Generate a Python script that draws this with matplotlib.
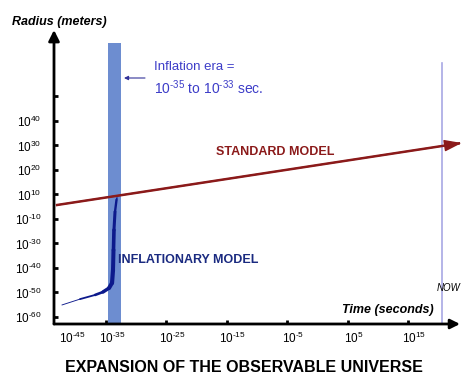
import numpy as np
import matplotlib
matplotlib.use('Agg')
import matplotlib.pyplot as plt
from matplotlib.collections import LineCollection

plt.rcParams['font.family'] = ['Liberation Sans', 'DejaVu Sans']
plt.rcParams['mathtext.fontset'] = 'custom'
plt.rcParams['mathtext.rm'] = 'Liberation Sans'
plt.rcParams['mathtext.it'] = 'Liberation Sans:italic'
plt.rcParams['mathtext.bf'] = 'Liberation Sans:bold'

W, H = 474, 382

# y axis is schematic: one slot per tick, labels as printed in the figure
y_labels = ['-60', '-50', '-40', '-30', '-10', '10', '20', '30', '40', '']
x_ticks = [-35, -25, -15, -5, 5, 15]          # log10(seconds)
x_first_label = -45

# standard model: log10(t), tick slot
std_x = [-43.1, 23.9]
std_y = [4.57, 7.10]

# inflationary model curve (log10 t, slot) and stroke width
inf_x = np.array([-42.3, -39.3, -36.8, -35.5, -34.5, -34.0, -33.84, -33.76, -33.68, -33.51, -33.26, -33.18])
inf_y = np.array([0.49, 0.73, 0.90, 1.02, 1.18, 1.39, 1.92, 2.73, 3.55, 4.29, 4.78, 4.86])
inf_w = np.array([0.3, 1.0, 1.6, 2.2, 2.8, 3.0, 3.0, 2.8, 2.4, 2.0, 1.4, 0.8])

inflation_era = (-34.67, -32.52)
inflation_top = 11.18
now_x = 20.6
now_top = 10.35

xlim = (-43.61, 23.61)
ylim = (-0.286, 11.71)

def px(x, y):
    return x / W, 1 - y / H

def sup(s):
    return r'$10^{\text{%s}}$' % s

fig = plt.figure(figsize=(W / 100, H / 100), dpi=100)
ax = fig.add_axes([54 / W, (H - 324) / H, 406 / W, 294 / H])
ax.set_xlim(xlim)
ax.set_ylim(ylim)
for s in ax.spines.values():
    s.set_visible(False)

# axes with arrow heads
ax.annotate('', xy=(0, 1), xytext=(0, 0), xycoords='axes fraction',
            arrowprops=dict(arrowstyle='-|>', lw=2, color='black', mutation_scale=16, shrinkA=0, shrinkB=0))
ax.annotate('', xy=(1, 0), xytext=(0, 0), xycoords='axes fraction',
            arrowprops=dict(arrowstyle='-|>', lw=2, color='black', mutation_scale=14, shrinkA=0, shrinkB=0))

# inflation band
ax.fill_between(inflation_era, ylim[0], inflation_top, color='#6d8dd0', lw=0, zorder=1)

# NOW line
ax.plot([now_x, now_x], [ylim[0], now_top], color='#a8a8e4', lw=1.2, zorder=1)

# standard model
ax.plot(std_x, std_y, color='#8b1a1a', lw=1.8, zorder=3)
ax.annotate('', xy=(std_x[1], std_y[1]), xytext=(std_x[0], std_y[0]),
            arrowprops=dict(arrowstyle='-|>,head_length=0.6,head_width=0.2', lw=1, color='#8b1a1a',
                            mutation_scale=18, shrinkA=0, shrinkB=0),
            zorder=3, annotation_clip=False)

# inflationary model (tapered stroke)
pts = np.column_stack([inf_x, inf_y]).reshape(-1, 1, 2)
segs = np.concatenate([pts[:-1], pts[1:]], axis=1)
lc = LineCollection(segs, linewidths=(inf_w[:-1] + inf_w[1:]) / 2, colors='#0d1a8c',
                    capstyle='round', zorder=4)
ax.add_collection(lc)

# ticks
ax.set_yticks(range(len(y_labels)))
ax.set_yticklabels([sup(l) if l else '' for l in y_labels], fontsize=8.5)
ax.tick_params(axis='y', direction='in', length=3, width=2, pad=9)
ax.set_xticks(x_ticks)
ax.set_xticklabels([])
ax.tick_params(axis='x', direction='in', length=3, width=2)
for v in [x_first_label] + x_ticks:
    ax.text(max(v, -41.5) + 1.0, -0.55, sup(str(v)), fontsize=8.5, ha='center', va='top',
            clip_on=False)

# texts
fig.text(*px(12, 22), 'Radius (meters)', fontsize=9, fontweight='bold', style='italic', va='center')
fig.text(*px(342, 310), 'Time (seconds)', fontsize=9, fontweight='bold', style='italic', va='center')
fig.text(*px(449, 288), 'NOW', fontsize=7, style='italic', ha='center', va='center')
fig.text(*px(275, 152), 'STANDARD MODEL', fontsize=9, fontweight='bold', color='#8b1a1a',
         ha='center', va='center')
fig.text(*px(118, 260), 'INFLATIONARY MODEL', fontsize=9, fontweight='bold', color='#1a2a80',
         va='center')
fig.text(*px(154, 67), 'Inflation era =', fontsize=9.5, color='#3c3cc8', va='center')
fig.text(*px(154, 88), sup('-35') + ' to ' + sup('-33') + ' sec.', fontsize=10, color='#3c3cc8',
         va='center')
ax.annotate('', xy=px(124, 78), xytext=px(145, 78), xycoords='figure fraction',
            arrowprops=dict(arrowstyle='-|>', lw=0.8, color='#333399', mutation_scale=6, shrinkA=0, shrinkB=0))
fig.text(*px(244, 368), 'EXPANSION OF THE OBSERVABLE UNIVERSE', fontsize=11.5, fontweight='bold',
         ha='center', va='center')

fig.savefig('out.png', dpi=100)
